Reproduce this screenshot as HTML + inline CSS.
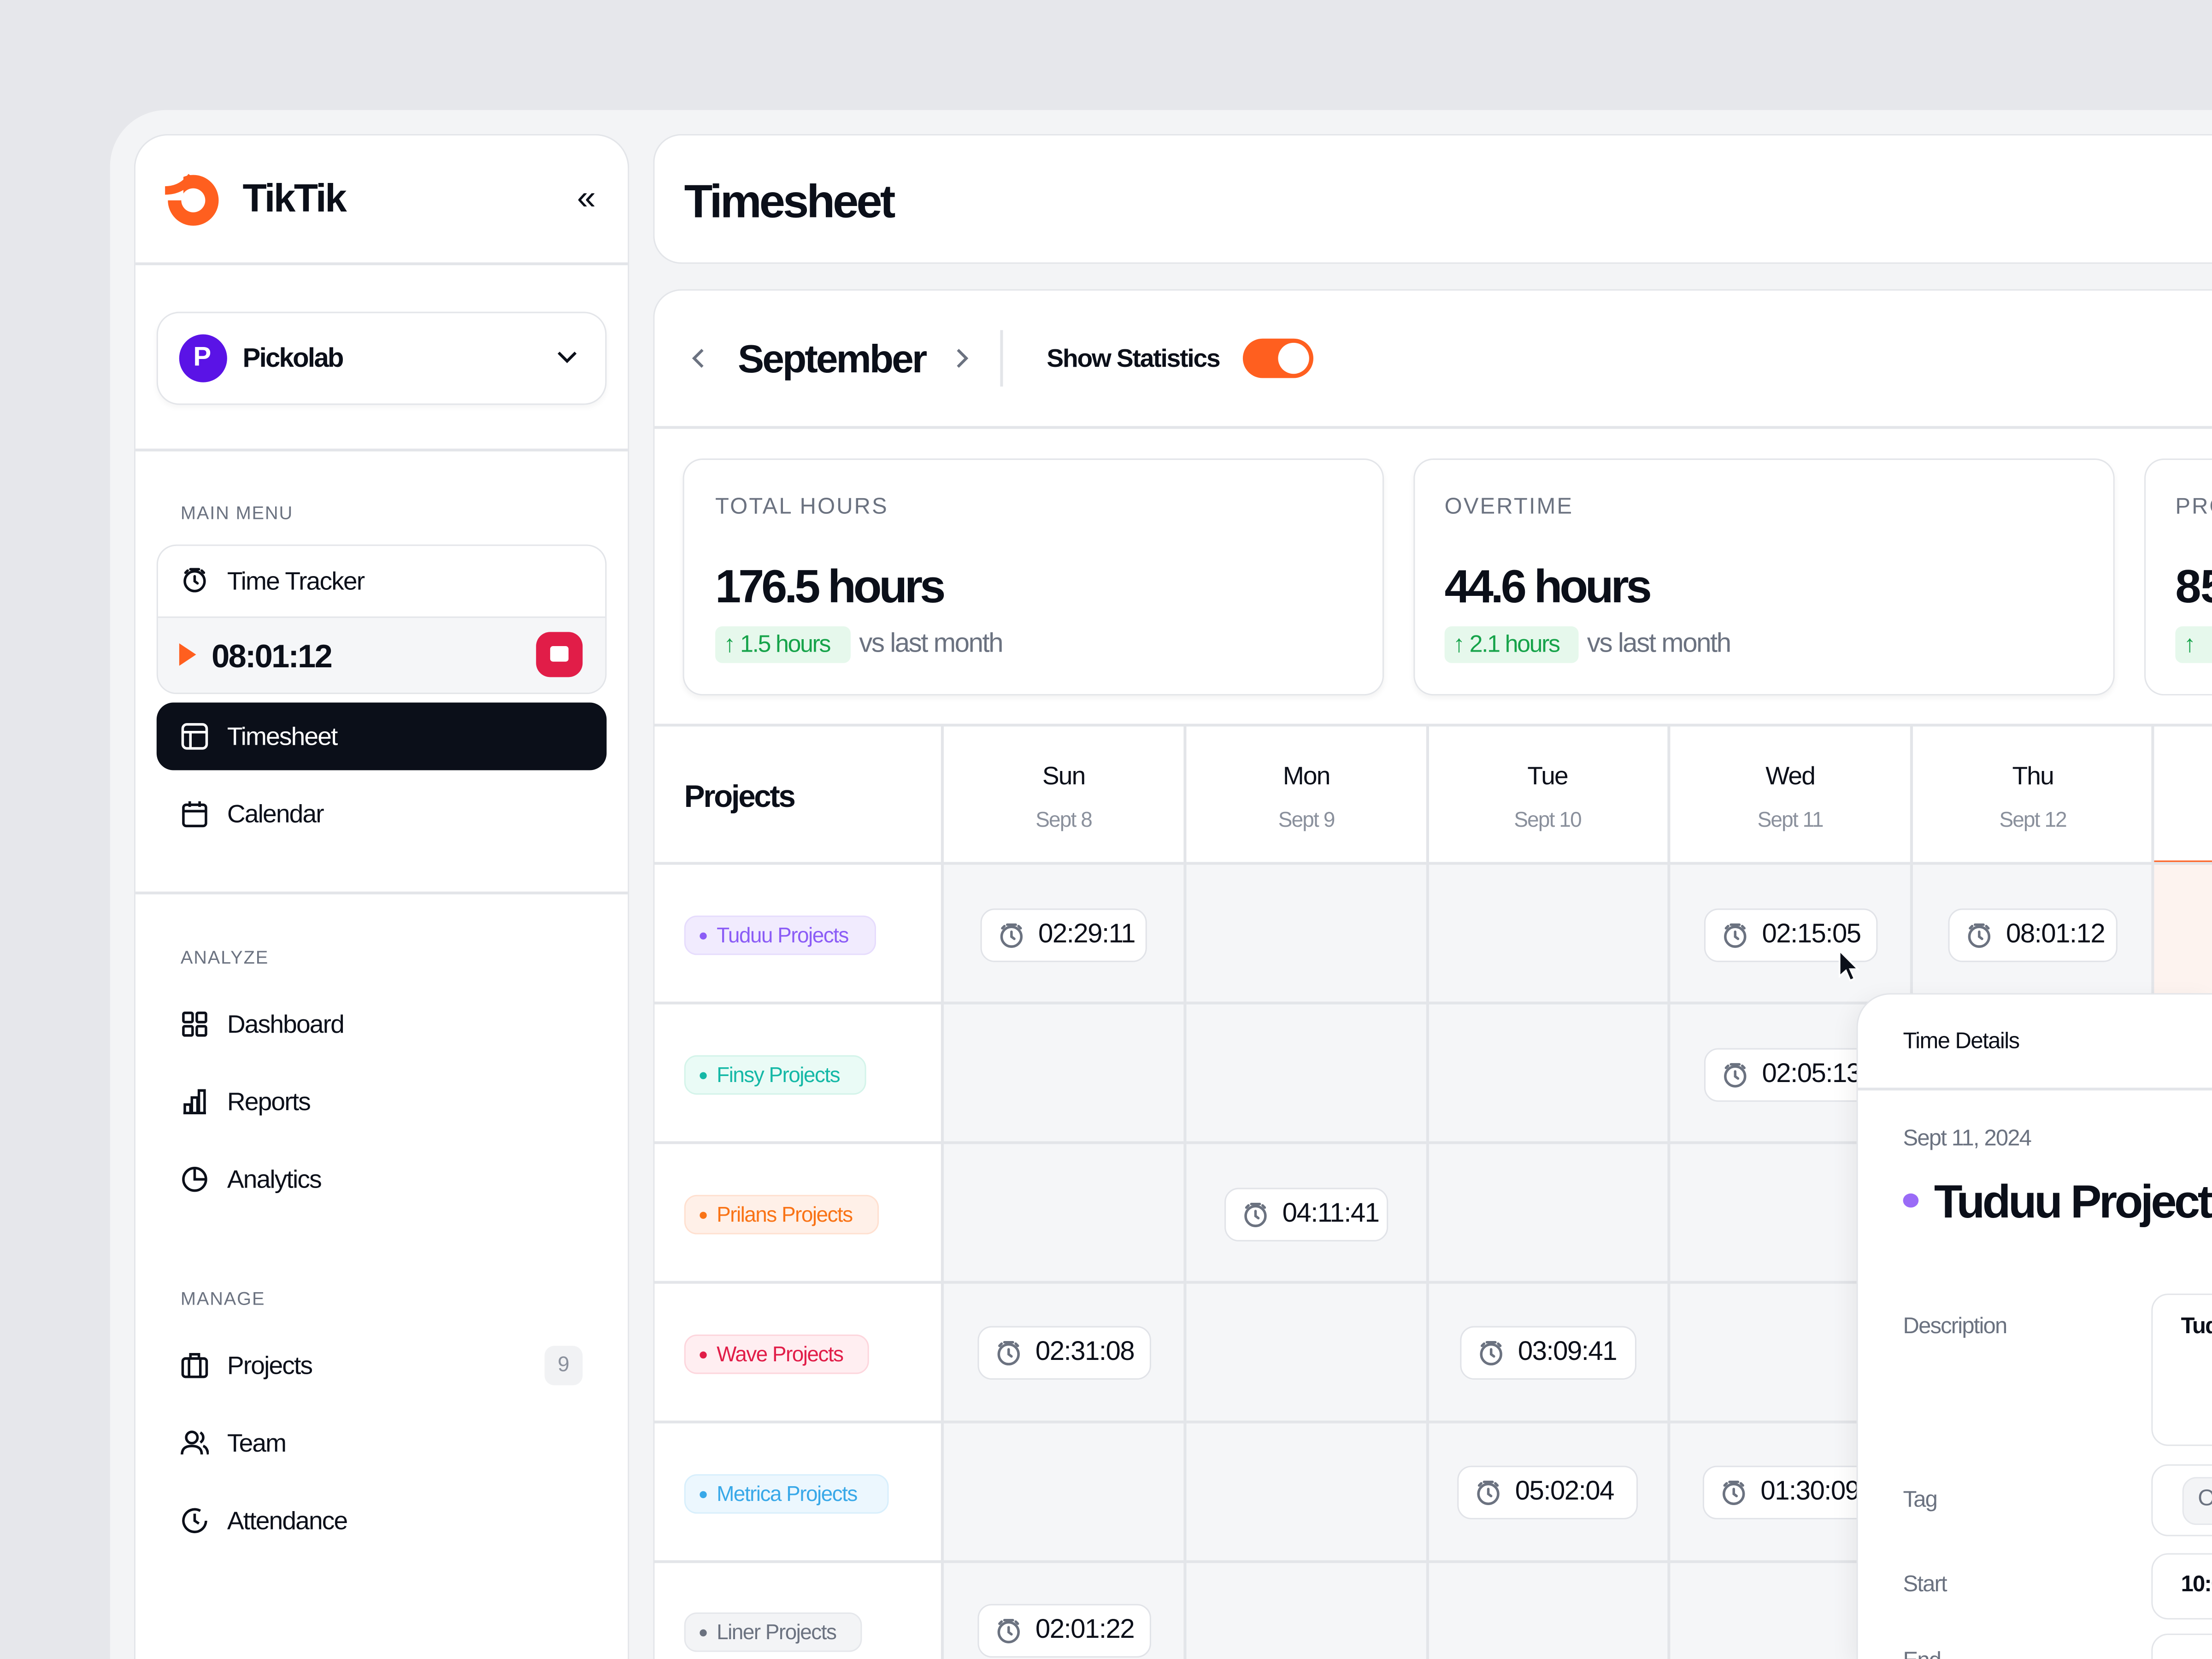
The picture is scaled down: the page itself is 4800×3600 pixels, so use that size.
<!DOCTYPE html>
<html><head><meta charset="utf-8">
<style>
html,body{margin:0;padding:0;width:4800px;height:3600px;overflow:hidden;}
body{background:#e6e7eb;font-family:"Liberation Sans",sans-serif;position:relative;}
#root{position:absolute;left:0;top:0;width:1568px;height:1176px;overflow:hidden;transform:scale(3.0612);transform-origin:0 0;color:#0b0f19;}
.a{position:absolute;}
.t{position:absolute;white-space:nowrap;letter-spacing:-0.6px;}
.sec{font-size:13px;color:#6b7280;letter-spacing:0.6px;}
.nav{font-size:18px;color:#0b0f19;}
.ic{position:absolute;width:20px;height:20px;}
.hd{font-size:18px;text-align:center;width:172px;}
.sub{font-size:15px;color:#8a909c;text-align:center;width:172px;}
.chip{position:absolute;height:28px;border-radius:9px;font-size:15px;line-height:27px;padding:0 10px 0 22px;box-sizing:border-box;white-space:nowrap;letter-spacing:-0.5px;}
.chip:before{content:"";position:absolute;left:10px;top:11px;width:5px;height:5px;border-radius:50%;background:currentColor;}
.pill{position:absolute;height:38px;border:1.5px solid #e1e3e8;background:#fff;border-radius:10px;box-sizing:border-box;font-size:19px;line-height:35px;padding-left:40px;white-space:nowrap;letter-spacing:-0.5px;overflow:hidden;}
.pill svg{position:absolute;left:11px;top:8px;}
</style></head>
<body>
<div id="root">
<svg width="0" height="0" style="position:absolute"><defs>
<g id="stopw"><circle cx="10" cy="11" r="7" fill="none" stroke="currentColor" stroke-width="1.8"/><path d="M10 7.5V11l2 1.5M7 2.5h6M3.5 5l1.5-1.5M16.5 5L15 3.5" fill="none" stroke="currentColor" stroke-width="1.8" stroke-linecap="round"/></g>
</defs></svg>

<div class="a" style="left:78px;top:78px;width:1490px;height:1098px;background:#f3f4f6;border-radius:40px 0 0 0;"></div>

<!-- sidebar -->
<div class="a" style="left:95px;top:95px;width:351px;height:1081px;background:#fff;border:1px solid #e3e5e9;border-bottom:none;border-radius:24px 24px 0 0;box-sizing:border-box;"></div>
<svg class="a" style="left:116px;top:122px" width="40" height="40" viewBox="0 0 40 40"><circle cx="21" cy="20" r="18" fill="#ff5f1f"/><circle cx="21" cy="20" r="8.5" fill="#fff"/><path d="M0 0h14v20H0z" fill="#fff"/><path d="M1 13q12 0 19-10" fill="none" stroke="#ff5f1f" stroke-width="6"/></svg>
<div class="t" style="left:172px;top:125px;font-size:28px;font-weight:bold;letter-spacing:-1.2px;">TikTik</div>
<div class="t" style="left:409px;top:127px;font-size:24px;">«</div>
<div class="a" style="left:96px;top:186px;width:349px;height:1.5px;background:#e3e5e9"></div>

<div class="a" style="left:111px;top:221px;width:319px;height:66px;border:1.5px solid #e3e5e9;border-radius:16px;box-sizing:border-box;box-shadow:0 2px 4px rgba(0,0,0,0.04);"></div>
<div class="a" style="left:127px;top:237px;width:34px;height:34px;border-radius:50%;background:#5a13e6;"></div>
<div class="t" style="left:137px;top:243px;color:#fff;font-size:19px;font-weight:bold;">P</div>
<div class="t" style="left:172px;top:244px;font-size:19px;font-weight:bold;letter-spacing:-0.9px;">Pickolab</div>
<svg class="a" style="left:394px;top:247px" width="16" height="12"><path d="M2 3l6 6 6-6" fill="none" stroke="#0b0f19" stroke-width="2"/></svg>
<div class="a" style="left:96px;top:318px;width:349px;height:1.5px;background:#e3e5e9"></div>

<div class="t sec" style="left:128px;top:356px;">MAIN MENU</div>
<div class="a" style="left:111px;top:386px;width:319px;height:106px;border:1.5px solid #e3e5e9;border-radius:14px;box-sizing:border-box;overflow:hidden;"><div class="a" style="left:0;top:50px;width:100%;height:56px;background:#f5f6f8;border-top:1.5px solid #e3e5e9"></div></div>
<svg class="ic" style="left:128px;top:401px;color:#0b0f19"><use href="#stopw"/></svg>
<div class="t nav" style="left:161px;top:402px;">Time Tracker</div>
<svg class="a" style="left:127px;top:456px" width="12" height="16"><path d="M0 0l12 8-12 8z" fill="#ff5f1f"/></svg>
<div class="t" style="left:150px;top:452px;font-size:23px;font-weight:bold;letter-spacing:-0.9px;">08:01:12</div>
<div class="a" style="left:380px;top:448px;width:33px;height:32px;border-radius:10px;background:#e11d48;"><div class="a" style="left:10px;top:10px;width:13px;height:11px;border-radius:2px;background:#fff"></div></div>

<div class="a" style="left:111px;top:498px;width:319px;height:48px;background:#0b0f19;border-radius:12px;"></div>
<svg class="ic" style="left:128px;top:512px"><rect x="1.5" y="1.5" width="17" height="17" rx="3" fill="none" stroke="#fff" stroke-width="1.8"/><path d="M1.5 7h17M7 7v11.5" stroke="#fff" stroke-width="1.8"/></svg>
<div class="t nav" style="left:161px;top:512px;color:#fff;">Timesheet</div>
<svg class="ic" style="left:128px;top:567px"><rect x="2" y="3.5" width="16" height="15" rx="2" fill="none" stroke="#0b0f19" stroke-width="1.8"/><path d="M2 8h16M6.5 1v4M13.5 1v4" stroke="#0b0f19" stroke-width="1.8"/></svg>
<div class="t nav" style="left:161px;top:567px;">Calendar</div>
<div class="a" style="left:96px;top:632px;width:349px;height:1.5px;background:#e3e5e9"></div>

<div class="t sec" style="left:128px;top:671px;">ANALYZE</div>
<svg class="ic" style="left:128px;top:716px"><g fill="none" stroke="#0b0f19" stroke-width="1.8"><rect x="2" y="2" width="6.5" height="6.5" rx="1"/><rect x="11.5" y="2" width="6.5" height="6.5" rx="1"/><rect x="2" y="11.5" width="6.5" height="6.5" rx="1"/><rect x="11.5" y="11.5" width="6.5" height="6.5" rx="1"/></g></svg>
<div class="t nav" style="left:161px;top:716px;">Dashboard</div>
<svg class="ic" style="left:128px;top:771px"><path d="M2 18h16M3 18v-6h4v6M8 18V7h4v11M13 18V2h4v16" fill="none" stroke="#0b0f19" stroke-width="1.8"/></svg>
<div class="t nav" style="left:161px;top:771px;">Reports</div>
<svg class="ic" style="left:128px;top:826px"><circle cx="10" cy="10" r="8" fill="none" stroke="#0b0f19" stroke-width="1.8"/><path d="M10 2v8h8" fill="none" stroke="#0b0f19" stroke-width="1.8"/></svg>
<div class="t nav" style="left:161px;top:826px;">Analytics</div>

<div class="t sec" style="left:128px;top:913px;">MANAGE</div>
<svg class="ic" style="left:128px;top:958px"><rect x="1.5" y="5" width="17" height="13" rx="2" fill="none" stroke="#0b0f19" stroke-width="1.8"/><path d="M7 5V2h6v3M6 5v13M14 5v13" fill="none" stroke="#0b0f19" stroke-width="1.8"/></svg>
<div class="t nav" style="left:161px;top:958px;">Projects</div>
<div class="a" style="left:386px;top:954px;width:27px;height:28px;border-radius:7px;background:#f1f2f4;color:#8a909c;font-size:15px;text-align:center;line-height:28px;">9</div>
<svg class="ic" style="left:128px;top:1013px"><circle cx="8" cy="6" r="4" fill="none" stroke="#0b0f19" stroke-width="1.8"/><path d="M1 18q0-6 7-6t7 6M14 2.5a4 4 0 010 7M16 12q3 1 3.5 6" fill="none" stroke="#0b0f19" stroke-width="1.8"/></svg>
<div class="t nav" style="left:161px;top:1013px;">Team</div>
<svg class="ic" style="left:128px;top:1068px"><path d="M18 10a8 8 0 11-4-7" fill="none" stroke="#0b0f19" stroke-width="1.8"/><path d="M10 5v5l3 2" fill="none" stroke="#0b0f19" stroke-width="1.8"/></svg>
<div class="t nav" style="left:161px;top:1068px;">Attendance</div>

<!-- header -->
<div class="a" style="left:463px;top:95px;width:1105px;height:92px;background:#fff;border:1px solid #e3e5e9;border-right:none;border-radius:20px 0 0 20px;box-sizing:border-box;"></div>
<div class="t" style="left:485px;top:124px;font-size:33px;font-weight:bold;letter-spacing:-1.6px;">Timesheet</div>

<!-- main card -->
<div class="a" style="left:463px;top:205px;width:1105px;height:971px;background:#fff;border:1px solid #e3e5e9;border-right:none;border-bottom:none;border-radius:20px 0 0 0;box-sizing:border-box;overflow:hidden;">
  <div class="a" style="left:0;top:96px;width:100%;height:1.5px;background:#e3e5e9"></div>
</div>
<svg class="a" style="left:489px;top:246px" width="12" height="16"><path d="M9 2L3 8l6 6" fill="none" stroke="#6b7280" stroke-width="2"/></svg>
<div class="t" style="left:523px;top:239px;font-size:28px;font-weight:bold;letter-spacing:-1.3px;">September</div>
<svg class="a" style="left:676px;top:246px" width="12" height="16"><path d="M3 2l6 6-6 6" fill="none" stroke="#6b7280" stroke-width="2"/></svg>
<div class="a" style="left:709px;top:234px;width:1.5px;height:40px;background:#e3e5e9"></div>
<div class="t" style="left:742px;top:244px;font-size:18px;font-weight:bold;letter-spacing:-0.7px;">Show Statistics</div>
<div class="a" style="left:881px;top:240px;width:50px;height:28px;border-radius:14px;background:#ff5f1f;"><div class="a" style="left:25px;top:3px;width:22px;height:22px;border-radius:50%;background:#fff"></div></div>

<!-- stat cards -->
<div class="a" style="left:484px;top:325px;width:497px;height:168px;border:1.5px solid #e3e5e9;border-radius:14px;box-sizing:border-box;box-shadow:0 2px 4px rgba(0,0,0,0.05);"></div>
<div class="t" style="left:507px;top:351px;font-size:16px;color:#6b7280;letter-spacing:1px;">TOTAL HOURS</div>
<div class="t" style="left:507px;top:397px;font-size:33px;font-weight:bold;letter-spacing:-2px;">176.5 hours</div>
<div class="a" style="left:507px;top:444px;width:96px;height:26px;border-radius:5px;background:#e6f8ec;"></div>
<div class="t" style="left:513px;top:447px;font-size:17px;color:#16a34a;letter-spacing:-0.8px;">↑ 1.5 hours</div>
<div class="t" style="left:609px;top:446px;font-size:19px;color:#6b7280;letter-spacing:-0.8px;">vs last month</div>

<div class="a" style="left:1002px;top:325px;width:497px;height:168px;border:1.5px solid #e3e5e9;border-radius:14px;box-sizing:border-box;box-shadow:0 2px 4px rgba(0,0,0,0.05);"></div>
<div class="t" style="left:1024px;top:351px;font-size:16px;color:#6b7280;letter-spacing:1px;">OVERTIME</div>
<div class="t" style="left:1024px;top:397px;font-size:33px;font-weight:bold;letter-spacing:-2px;">44.6 hours</div>
<div class="a" style="left:1024px;top:444px;width:95px;height:26px;border-radius:5px;background:#e6f8ec;"></div>
<div class="t" style="left:1030px;top:447px;font-size:17px;color:#16a34a;letter-spacing:-0.8px;">↑ 2.1 hours</div>
<div class="t" style="left:1125px;top:446px;font-size:19px;color:#6b7280;letter-spacing:-0.8px;">vs last month</div>

<div class="a" style="left:1520px;top:325px;width:48px;height:168px;border:1.5px solid #e3e5e9;border-right:none;border-radius:14px 0 0 14px;box-sizing:border-box;overflow:hidden;">
<div class="t" style="left:21px;top:25px;font-size:16px;color:#6b7280;letter-spacing:1px;">PRO</div>
<div class="t" style="left:21px;top:71px;font-size:33px;font-weight:bold;">85</div>
<div class="a" style="left:21px;top:118px;width:40px;height:26px;border-radius:5px;background:#e6f8ec;"></div>
<div class="t" style="left:27px;top:121px;font-size:17px;color:#16a34a;">↑</div>
</div>

<!-- table -->
<div class="a" style="left:463px;top:513px;width:1105px;height:663px;overflow:hidden;">
  <div class="a" style="left:0;top:0;width:100%;height:1.5px;background:#e3e5e9"></div>
  <div class="a" style="left:205px;top:99px;width:900px;height:564px;background:#f5f6f8"></div>
  <div class="a" style="left:1063px;top:97px;width:42px;height:566px;background:#fdf3ef;border-top:3px solid #ff5f1f;box-sizing:border-box;"></div>
  <div class="a" style="left:0;top:98px;width:100%;height:1.5px;background:#e3e5e9"></div>
  <div class="a" style="left:0;top:197px;width:100%;height:1.5px;background:#e3e5e9"></div>
  <div class="a" style="left:0;top:296px;width:100%;height:1.5px;background:#e3e5e9"></div>
  <div class="a" style="left:0;top:395px;width:100%;height:1.5px;background:#e3e5e9"></div>
  <div class="a" style="left:0;top:494px;width:100%;height:1.5px;background:#e3e5e9"></div>
  <div class="a" style="left:0;top:593px;width:100%;height:1.5px;background:#e3e5e9"></div>
  <div class="a" style="left:204px;top:0;width:1.5px;height:663px;background:#e3e5e9"></div>
  <div class="a" style="left:376px;top:0;width:1.5px;height:663px;background:#e3e5e9"></div>
  <div class="a" style="left:548px;top:0;width:1.5px;height:663px;background:#e3e5e9"></div>
  <div class="a" style="left:719px;top:0;width:1.5px;height:663px;background:#e3e5e9"></div>
  <div class="a" style="left:891px;top:0;width:1.5px;height:663px;background:#e3e5e9"></div>
  <div class="a" style="left:1062px;top:0;width:1.5px;height:663px;background:#e3e5e9"></div>
</div>
<div class="t" style="left:485px;top:552px;font-size:22px;font-weight:bold;letter-spacing:-1.1px;">Projects</div>
<div class="t hd" style="left:668px;top:540px;">Sun</div><div class="t sub" style="left:668px;top:573px;">Sept 8</div>
<div class="t hd" style="left:840px;top:540px;">Mon</div><div class="t sub" style="left:840px;top:573px;">Sept 9</div>
<div class="t hd" style="left:1011px;top:540px;">Tue</div><div class="t sub" style="left:1011px;top:573px;">Sept 10</div>
<div class="t hd" style="left:1183px;top:540px;">Wed</div><div class="t sub" style="left:1183px;top:573px;">Sept 11</div>
<div class="t hd" style="left:1355px;top:540px;">Thu</div><div class="t sub" style="left:1355px;top:573px;">Sept 12</div>

<div class="chip" style="left:485px;top:649px;width:136px;color:#8b5cf6;background:#f1ebfe;border:1.5px solid #e6dcfd;">Tuduu Projects</div>
<div class="chip" style="left:485px;top:748px;width:129px;color:#14b8a6;background:#eafbf6;border:1.5px solid #d4f4ea;">Finsy Projects</div>
<div class="chip" style="left:485px;top:847px;width:138px;color:#f97316;background:#fff0e8;border:1.5px solid #ffe0d0;">Prilans Projects</div>
<div class="chip" style="left:485px;top:946px;width:131px;color:#e11d48;background:#ffeef1;border:1.5px solid #fdd6dd;">Wave Projects</div>
<div class="chip" style="left:485px;top:1045px;width:145px;color:#38a8e8;background:#ecf7fe;border:1.5px solid #d8effc;">Metrica Projects</div>
<div class="chip" style="left:485px;top:1143px;width:126px;color:#6b7280;background:#f3f4f6;border:1.5px solid #e5e7eb;">Liner Projects</div>

<div class="pill" style="left:695px;top:644px;width:118px;"><svg width="20" height="20" style="color:#6b7280"><use href="#stopw"/></svg>02:29:11</div>
<div class="pill" style="left:1208px;top:644px;width:123px;"><svg width="20" height="20" style="color:#6b7280"><use href="#stopw"/></svg>02:15:05</div>
<div class="pill" style="left:1381px;top:644px;width:120px;"><svg width="20" height="20" style="color:#6b7280"><use href="#stopw"/></svg>08:01:12</div>
<div class="pill" style="left:1208px;top:743px;width:123px;"><svg width="20" height="20" style="color:#6b7280"><use href="#stopw"/></svg>02:05:13</div>
<div class="pill" style="left:868px;top:842px;width:116px;"><svg width="20" height="20" style="color:#6b7280"><use href="#stopw"/></svg>04:11:41</div>
<div class="pill" style="left:693px;top:940px;width:123px;"><svg width="20" height="20" style="color:#6b7280"><use href="#stopw"/></svg>02:31:08</div>
<div class="pill" style="left:1035px;top:940px;width:125px;"><svg width="20" height="20" style="color:#6b7280"><use href="#stopw"/></svg>03:09:41</div>
<div class="pill" style="left:1033px;top:1039px;width:128px;"><svg width="20" height="20" style="color:#6b7280"><use href="#stopw"/></svg>05:02:04</div>
<div class="pill" style="left:1207px;top:1039px;width:124px;"><svg width="20" height="20" style="color:#6b7280"><use href="#stopw"/></svg>01:30:09</div>
<div class="pill" style="left:693px;top:1137px;width:123px;"><svg width="20" height="20" style="color:#6b7280"><use href="#stopw"/></svg>02:01:22</div>

<svg class="a" style="left:1303px;top:673px" width="16" height="24"><path d="M1 1v18l4.5-4 3 7 3-1.3-3-6.7H14z" fill="#0b0f19" stroke="#fff" stroke-width="1.2"/></svg>

<!-- popup -->
<div class="a" style="left:1316px;top:704px;width:252px;height:472px;background:#fff;border:1.5px solid #e3e5e9;border-right:none;border-bottom:none;border-radius:24px 0 0 0;box-sizing:border-box;box-shadow:-4px 4px 16px rgba(0,0,0,0.06);overflow:hidden;">
  <div class="a" style="left:0;top:66px;width:100%;height:1.5px;background:#e3e5e9"></div>
  <div class="t" style="left:54px;top:128px;font-size:33px;font-weight:bold;letter-spacing:-1.8px;">Tuduu Projects</div>
  <div class="a" style="left:208px;top:212px;width:60px;height:108px;border:1.5px solid #e3e5e9;border-radius:12px;box-sizing:border-box;"><div class="t" style="left:20px;top:14px;font-size:16px;font-weight:bold;">Tuduu</div></div>
  <div class="a" style="left:208px;top:333px;width:60px;height:51px;border:1.5px solid #e3e5e9;border-radius:12px;box-sizing:border-box;"><div class="a" style="left:21px;top:8px;width:60px;height:32px;border-radius:10px;background:#f3f4f6;border:1px solid #e5e7eb"></div><div class="t" style="left:32px;top:15px;font-size:16px;color:#6b7280;">O</div></div>
  <div class="a" style="left:208px;top:396px;width:60px;height:47px;border:1.5px solid #e3e5e9;border-radius:12px;box-sizing:border-box;"><div class="t" style="left:20px;top:13px;font-size:16px;font-weight:bold;">10:00</div></div>
  <div class="a" style="left:208px;top:453px;width:60px;height:47px;border:1.5px solid #e3e5e9;border-radius:12px;box-sizing:border-box;"></div>
  <div class="t" style="left:32px;top:464px;font-size:16px;color:#6b7280;">End</div>
</div>
<div class="t" style="left:1349px;top:730px;font-size:16px;color:#0b0f19;letter-spacing:-0.5px;">Time Details</div>
<div class="t" style="left:1349px;top:799px;font-size:16px;color:#6b7280;">Sept 11, 2024</div>
<div class="a" style="left:1349px;top:846px;width:11px;height:10px;border-radius:50%;background:#9a6bf7"></div>
<div class="t" style="left:1349px;top:932px;font-size:16px;color:#6b7280;">Description</div>
<div class="t" style="left:1349px;top:1055px;font-size:16px;color:#6b7280;">Tag</div>
<div class="t" style="left:1349px;top:1115px;font-size:16px;color:#6b7280;">Start</div>
</div>
</body></html>
